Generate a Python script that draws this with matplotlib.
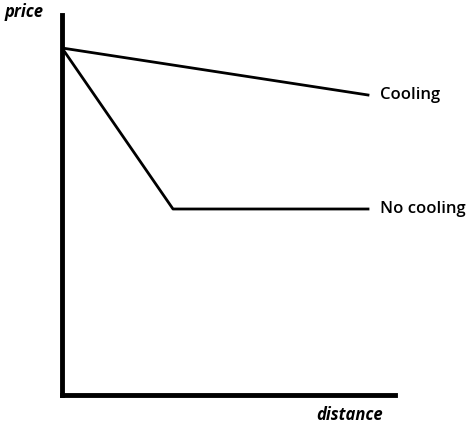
import matplotlib.pyplot as plt

# values in axis units (x: distance, y: price)
cool_x = [0, 306]
cool_y = [347, 300]
nocool_x = [0, 111, 306]
nocool_y = [347, 186, 186]

fig = plt.figure(figsize=(4.74, 4.25), dpi=100)
ax = fig.add_axes([62/474, 30/425, 333/474, 380/425])
ax.set_xlim(0, 333)
ax.set_ylim(0, 380)

ax.plot(cool_x, cool_y, color='black', lw=2)
ax.plot(nocool_x, nocool_y, color='black', lw=2)

for s in ['top', 'right']:
    ax.spines[s].set_visible(False)
for s in ['left', 'bottom']:
    ax.spines[s].set_linewidth(3.5)
ax.set_xticks([])
ax.set_yticks([])

ax.text(318, 300, 'Cooling', fontsize=12, family='Open Sans', fontweight='semibold', va='center')
ax.text(318, 186, 'No cooling', fontsize=12, family='Open Sans', fontweight='semibold', va='center')
fig.text(5/474, 1 - 12/425, 'price', fontsize=12, family='Open Sans',
         fontweight='bold', style='italic', va='center')
fig.text(383/474, 1 - 415/425, 'distance', fontsize=12, family='Open Sans',
         fontweight='bold', style='italic', va='center', ha='right')

fig.savefig('out.png', dpi=100)
